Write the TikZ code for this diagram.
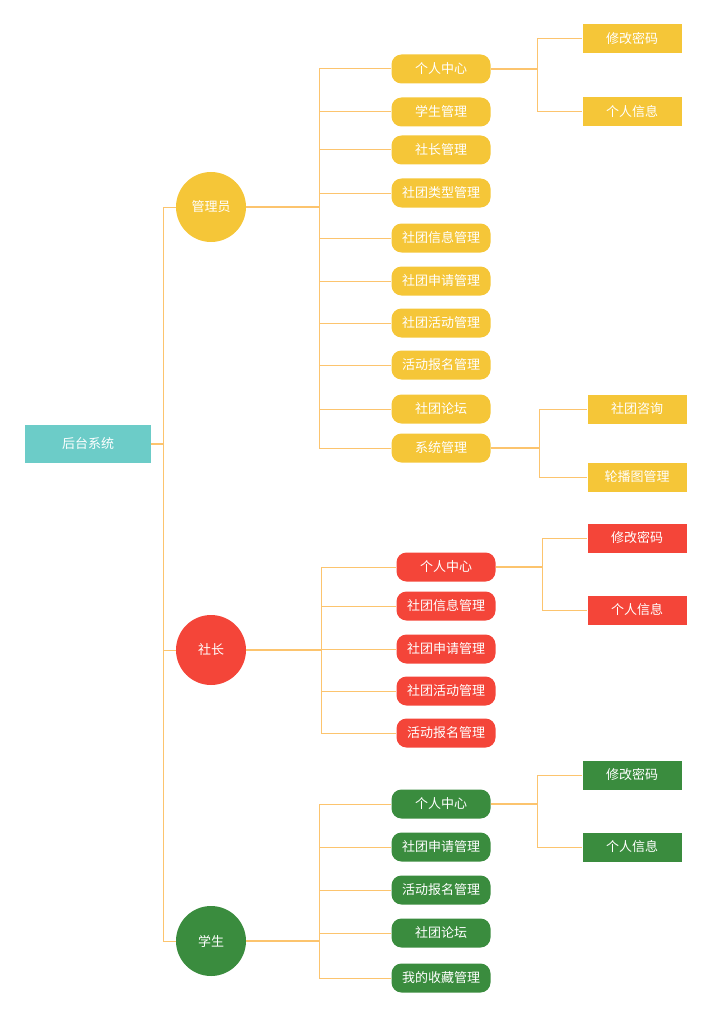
\documentclass[tikz,border=0pt]{standalone}
\usepackage{fontspec}
\setmainfont{Noto Sans CJK SC}
\definecolor{rootc}{HTML}{6CCCC8}
\definecolor{ylw}{HTML}{F5C638}
\definecolor{rd}{HTML}{F44539}
\definecolor{grn}{HTML}{3A8C3E}
\definecolor{linec}{HTML}{FCC46E}
\tikzset{
  conn/.style={draw=linec, line width=1pt},
  main/.style={draw=linec, line width=1.5pt},
  rootbox/.style={fill=rootc, text=white, minimum width=126pt, minimum height=38pt, inner sep=0pt},
  role/.style={circle, fill=#1, text=white, minimum size=70pt, inner sep=0pt},
  item/.style={fill=#1, text=white, rounded corners=10pt, minimum width=99pt, minimum height=29pt, inner sep=0pt},
  leaf/.style={fill=#1, text=white, minimum width=99pt, minimum height=29pt, inner sep=0pt},
}
\begin{document}
\begin{tikzpicture}[x=1pt,y=-1pt,font=\fontsize{13}{15}\selectfont]
\useasboundingbox (0,0) rectangle (712,1019);
% root and roles
\node[rootbox] (root) at (88,444) {后台系统};
\node[role=ylw] (admin) at (211,207) {管理员};
\node[role=rd] (head) at (211,650) {社长};
\node[role=grn] (student) at (211,941) {学生};
\coordinate (rj) at (163,444);
\draw[main] (root) -- (rj);
\foreach \r in {admin,head,student}
  \draw[conn] (rj) |- (\r.west);

% admin
\coordinate (aj) at (319,207);
\draw[main] (admin) -- (aj);
\foreach \n/\y/\t in {a1/69/个人中心, a2/112/学生管理, a3/150/社长管理, a4/193/社团类型管理,
    a5/238/社团信息管理, a6/281/社团申请管理, a7/323/社团活动管理, a8/365/活动报名管理,
    a9/409/社团论坛, a10/448/系统管理} {
  \node[item=ylw] (\n) at (441,\y) {\t};
  \draw[conn] (aj) |- (\n.west);
}
\node[leaf=ylw] (a11) at (632,39) {修改密码};
\node[leaf=ylw] (a12) at (632,112) {个人信息};
\coordinate (a1j) at (537,69);
\draw[main] (a1) -- (a1j);
\draw[conn] (a1j) |- (a11.west);
\draw[conn] (a1j) |- (a12.west);
\node[leaf=ylw] (a101) at (637,409) {社团咨询};
\node[leaf=ylw] (a102) at (637,477) {轮播图管理};
\coordinate (a10j) at (539,448);
\draw[main] (a10) -- (a10j);
\draw[conn] (a10j) |- (a101.west);
\draw[conn] (a10j) |- (a102.west);

% head
\coordinate (hj) at (321,650);
\draw[main] (head) -- (hj);
\foreach \n/\y/\t in {h1/567/个人中心, h2/606/社团信息管理, h3/649/社团申请管理,
    h4/691/社团活动管理, h5/733/活动报名管理} {
  \node[item=rd] (\n) at (446,\y) {\t};
  \draw[conn] (hj) |- (\n.west);
}
\node[leaf=rd] (h11) at (637,538) {修改密码};
\node[leaf=rd] (h12) at (637,610) {个人信息};
\coordinate (h1j) at (542,567);
\draw[main] (h1) -- (h1j);
\draw[conn] (h1j) |- (h11.west);
\draw[conn] (h1j) |- (h12.west);

% student
\coordinate (sj) at (319,941);
\draw[main] (student) -- (sj);
\foreach \n/\y/\t in {s1/804/个人中心, s2/847/社团申请管理, s3/890/活动报名管理,
    s4/933/社团论坛, s5/978/我的收藏管理} {
  \node[item=grn] (\n) at (441,\y) {\t};
  \draw[conn] (sj) |- (\n.west);
}
\node[leaf=grn] (s11) at (632,775) {修改密码};
\node[leaf=grn] (s12) at (632,847) {个人信息};
\coordinate (s1j) at (537,804);
\draw[main] (s1) -- (s1j);
\draw[conn] (s1j) |- (s11.west);
\draw[conn] (s1j) |- (s12.west);
\end{tikzpicture}
\end{document}
